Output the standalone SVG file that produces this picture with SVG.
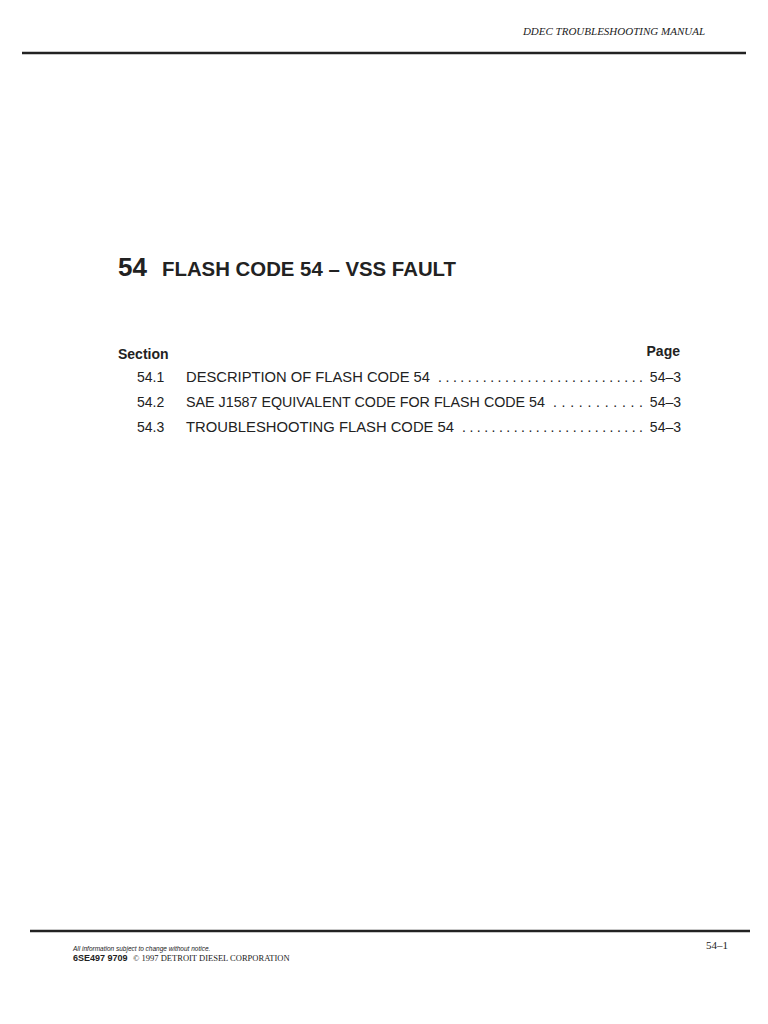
<svg xmlns="http://www.w3.org/2000/svg" width="768" height="1024" viewBox="0 0 768 1024">
<style>
.s{font-family:"Liberation Sans",Arial,sans-serif;fill:#222}
.r{font-family:"Liberation Serif","Times New Roman",serif;fill:#222}
.t{font-size:14px}
</style>
<rect width="768" height="1024" fill="#fff"/>
<text class="r" x="705" y="35" font-size="11" font-style="italic" text-anchor="end">DDEC TROUBLESHOOTING MANUAL</text>
<line x1="22" y1="53" x2="746" y2="53" stroke="#222" stroke-width="2.5"/>
<text class="s" x="118" y="276" font-size="26" font-weight="bold">54</text>
<text class="s" x="162" y="276" font-size="20" font-weight="bold" textLength="294" lengthAdjust="spacingAndGlyphs">FLASH CODE 54 – VSS FAULT</text>
<text class="s" x="118" y="359" font-size="14" font-weight="bold">Section</text>
<text class="s" x="680" y="356" font-size="14" font-weight="bold" text-anchor="end">Page</text>
<g class="s t">
<text x="137" y="382">54.1</text>
<text x="186" y="382" textLength="244" lengthAdjust="spacingAndGlyphs">DESCRIPTION OF FLASH CODE 54</text>
<text x="438" y="382" textLength="205" lengthAdjust="spacing">............................</text>
<text x="681" y="382" text-anchor="end">54–3</text>
<text x="137" y="407">54.2</text>
<text x="186" y="407" textLength="359" lengthAdjust="spacingAndGlyphs">SAE J1587 EQUIVALENT CODE FOR FLASH CODE 54</text>
<text x="553" y="407" textLength="90" lengthAdjust="spacing">...........</text>
<text x="681" y="407" text-anchor="end">54–3</text>
<text x="137" y="432">54.3</text>
<text x="186" y="432" textLength="268" lengthAdjust="spacingAndGlyphs">TROUBLESHOOTING FLASH CODE 54</text>
<text x="462" y="432" textLength="181" lengthAdjust="spacing">.........................</text>
<text x="681" y="432" text-anchor="end">54–3</text>
</g>
<line x1="30" y1="931" x2="750" y2="931" stroke="#222" stroke-width="2.5"/>
<text class="s" x="73" y="951" font-size="6.5" font-style="italic">All information subject to change without notice.</text>
<text class="s" x="73" y="961" font-size="9" font-weight="bold">6SE497 9709</text>
<text class="r" x="133" y="961" font-size="8.5">© 1997 DETROIT DIESEL CORPORATION</text>
<text class="r" x="706" y="949" font-size="11">54–1</text>
</svg>
